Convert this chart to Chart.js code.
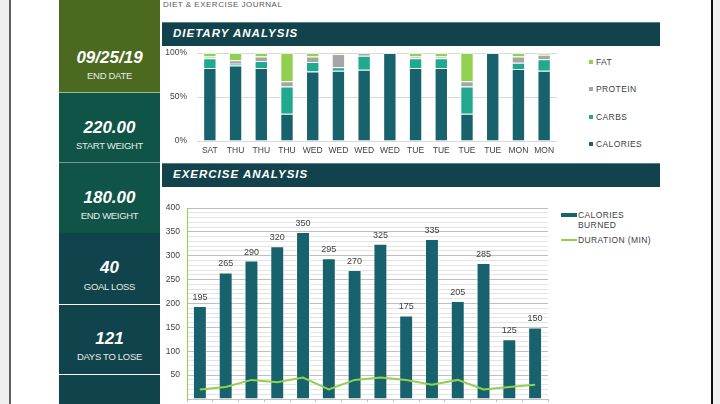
<!DOCTYPE html>
<html>
<head>
<meta charset="utf-8">
<script src="https://cdn.jsdelivr.net/npm/chart.js@4.4.1/dist/chart.umd.min.js"></script>
<style>
  html, body { margin:0; padding:0; }
  body { width:720px; height:404px; overflow:hidden; position:relative; background:#fff;
         font-family:"Liberation Sans", Arial, sans-serif; }
  .abs { position:absolute; }
  .box { position:absolute; left:59px; width:101px; }
  .val { position:absolute; left:59px; width:101px; text-align:center; color:#fff;
         font-weight:bold; font-style:italic; font-size:17px; line-height:20px; }
  .lab { position:absolute; left:59px; width:101px; text-align:center; color:#e6ece9;
         font-size:9.5px; line-height:10px; letter-spacing:-0.3px; }
  .banner { position:absolute; left:162px; width:498px; height:24px; background:#12434c;
            border-top:1px solid #5b8288; box-sizing:border-box; }
  .banner span { position:absolute; left:11px; top:4px; color:#fff; font-weight:bold;
                 font-style:italic; font-size:11.5px; letter-spacing:1px; }
  .leg { position:absolute; font-size:8.5px; color:#404040; letter-spacing:0.4px; line-height:10px; }
  .sq { position:absolute; width:4px; height:4px; }
</style>
</head>
<body>
<!-- page frame -->
<div class="abs" style="left:0;top:0;width:9px;height:404px;background:#efefef"></div>
<div class="abs" style="left:9px;top:0;width:2px;height:404px;background:#5f5f5f"></div>
<div class="abs" style="left:711px;top:0;width:2px;height:404px;background:#111"></div>
<div class="abs" style="left:713px;top:0;width:7px;height:404px;background:#efefef"></div>

<!-- sidebar -->
<div class="box" style="top:0;height:92px;background:#4b6a1f"></div>
<div class="box" style="top:92px;height:1px;background:#a3b98a"></div>
<div class="box" style="top:93px;height:69px;background:#0f5446"></div>
<div class="box" style="top:162px;height:1px;background:#6f9d90"></div>
<div class="box" style="top:163px;height:70px;background:#0f5446"></div>
<div class="box" style="top:233px;height:71px;background:#11434c"></div>
<div class="box" style="top:304px;height:1px;background:#ffffff"></div>
<div class="box" style="top:305px;height:69px;background:#11434c"></div>
<div class="box" style="top:374px;height:1px;background:#ffffff"></div>
<div class="box" style="top:375px;height:29px;background:#11434c"></div>

<div class="val" style="top:48px">09/25/19</div>
<div class="lab" style="top:71px">END DATE</div>
<div class="val" style="top:118px">220.00</div>
<div class="lab" style="top:141px">START WEIGHT</div>
<div class="val" style="top:188px">180.00</div>
<div class="lab" style="top:211px">END WEIGHT</div>
<div class="val" style="top:258px">40</div>
<div class="lab" style="top:282px">GOAL LOSS</div>
<div class="val" style="top:329px">121</div>
<div class="lab" style="top:352px">DAYS TO LOSE</div>

<!-- titles -->
<div class="abs" style="left:163px;top:0px;font-size:8px;line-height:10px;color:#595959;letter-spacing:0.5px">DIET &amp; EXERCISE JOURNAL</div>
<div class="banner" style="top:22px"><span>DIETARY ANALYSIS</span></div>
<div class="banner" style="top:163px"><span>EXERCISE ANALYSIS</span></div>

<!-- charts -->
<canvas id="diet" class="abs" style="left:160px;top:38px" width="400" height="124"></canvas>
<canvas id="ex" class="abs" style="left:160px;top:190px" width="392" height="230"></canvas>

<!-- diet legend -->
<div class="sq" style="left:589px;top:60px;background:#92d050"></div>
<div class="leg" style="left:596px;top:57px">FAT</div>
<div class="sq" style="left:589px;top:87px;background:#a6a6a6"></div>
<div class="leg" style="left:596px;top:84px">PROTEIN</div>
<div class="sq" style="left:589px;top:115px;background:#20a98e"></div>
<div class="leg" style="left:596px;top:112px">CARBS</div>
<div class="sq" style="left:589px;top:142px;background:#17626c"></div>
<div class="leg" style="left:596px;top:139px">CALORIES</div>

<!-- exercise legend -->
<div class="abs" style="left:561px;top:213px;width:16px;height:4px;background:#17626c"></div>
<div class="leg" style="left:578px;top:210px">CALORIES<br>BURNED</div>
<div class="abs" style="left:561px;top:239px;width:16px;height:2px;background:#92d050"></div>
<div class="leg" style="left:578px;top:235px">DURATION (MIN)</div>

<script>
// ---- data ----
const dietDays = ["SAT","THU","THU","THU","WED","WED","WED","WED","TUE","TUE","TUE","TUE","MON","MON"];
const calories = [83, 86, 83, 31, 79, 80, 81, 100, 83, 83, 31, 100, 82, 80];
const carbs    = [11,  2,  8, 31, 11,  4, 16,   0, 11, 11, 31,   0,  7, 13];
const protein  = [ 2,  4,  5,  6,  6, 15,  3,   0,  2,  2,  6,   0,  7,  5];
const fat      = [ 4,  8,  4, 32,  4,  1,  0,   0,  4,  4, 32,   0,  4,  2];
const dietTicks = [0, 50, 100];

const exDays = ["SAT","THU","THU","THU","WED","WED","WED","WED","TUE","TUE","TUE","TUE","MON","MON"];
const caloriesBurned = [195, 265, 290, 320, 350, 295, 270, 325, 175, 335, 205, 285, 125, 150];
const durationMin    = [20, 25, 40, 35, 45, 20, 40, 45, 40, 30, 40, 20, 25, 30];
const exMax = 400, exMajor = 50, exMinor = 10;

const FONT = "'Liberation Sans', Arial, sans-serif";
Chart.defaults.font.family = FONT;
Chart.defaults.color = '#404040';
Chart.defaults.animation = false;

const edge = 'rgba(255,255,255,0.45)';

new Chart(document.getElementById('diet'), {
  type: 'bar',
  data: {
    labels: dietDays,
    datasets: [
      { label: 'CALORIES', data: calories, backgroundColor: '#17626c', borderColor: edge, borderWidth: 1 },
      { label: 'CARBS',    data: carbs,    backgroundColor: '#20a98e', borderColor: edge, borderWidth: 1 },
      { label: 'PROTEIN',  data: protein,  backgroundColor: '#a6a6a6', borderColor: edge, borderWidth: 1 },
      { label: 'FAT',      data: fat,      backgroundColor: '#92d050', borderColor: edge, borderWidth: 1 }
    ]
  },
  options: {
    responsive: false,
    layout: { padding: { top: 0, right: 3, left: 0, bottom: 0 } },
    plugins: { legend: { display: false }, tooltip: { enabled: false } },
    datasets: { bar: { categoryPercentage: 1, barPercentage: 0.52 } },
    scales: {
      x: {
        stacked: true,
        grid: { display: false, drawTicks: false },
        border: { display: false },
        ticks: { padding: 5, font: { size: 8.5 }, color: '#404040', maxRotation: 0, autoSkip: false },
        afterFit: s => { s.height = 21; }
      },
      y: {
        stacked: true, min: 0, max: 100,
        afterBuildTicks: s => { s.ticks = dietTicks.map(v => ({ value: v })); },
        grid: { color: '#d9d9d9', drawTicks: false },
        border: { display: false },
        ticks: { padding: 10, font: { size: 8.5 }, color: '#404040', callback: v => v + '%' },
        afterFit: s => { s.width = 37; }
      }
    }
  }
});

const barLabels = {
  id: 'barLabels',
  afterDatasetsDraw(chart) {
    const ctx = chart.ctx;
    const idx = chart.data.datasets.findIndex(d => d.type === 'bar');
    const meta = chart.getDatasetMeta(idx);
    ctx.save();
    ctx.font = "9px " + FONT;
    ctx.fillStyle = '#404040';
    ctx.textAlign = 'center';
    ctx.textBaseline = 'bottom';
    meta.data.forEach((el, i) => {
      ctx.fillText(String(chart.data.datasets[idx].data[i]), el.x, el.y - 4);
    });
    ctx.restore();
  }
};

new Chart(document.getElementById('ex'), {
  data: {
    labels: exDays,
    datasets: [
      { type: 'line', label: 'DURATION (MIN)', data: durationMin, borderColor: '#92d050',
        borderWidth: 2, pointRadius: 0, tension: 0, order: 0 },
      { type: 'bar', label: 'CALORIES BURNED', data: caloriesBurned, backgroundColor: '#17626c',
        borderColor: 'rgba(255,255,255,0.4)', borderWidth: 1,
        categoryPercentage: 1, barPercentage: 0.54, order: 1 }
    ]
  },
  options: {
    responsive: false,
    layout: { padding: { top: 18, right: 4, left: 0, bottom: 0 } },
    plugins: { legend: { display: false }, tooltip: { enabled: false } },
    scales: {
      x: {
        offset: true,
        grid: { drawOnChartArea: false, drawTicks: true, tickLength: 3, color: '#bfbfbf', offset: true },
        border: { color: '#bfbfbf' },
        ticks: { padding: 4, font: { size: 8.5 }, color: '#404040', maxRotation: 0, autoSkip: false },
        afterFit: s => { s.height = 21; }
      },
      y: {
        min: 0, max: exMax,
        ticks: {
          stepSize: exMinor, autoSkip: false, padding: 7, font: { size: 8.5 }, color: '#404040',
          callback: v => (v !== 0 && v % exMajor === 0) ? String(v) : ''
        },
        grid: {
          drawTicks: false,
          color: c => (c.tick && c.tick.value % exMajor === 0) ? '#bfbfbf' : '#e4e4e4'
        },
        border: { color: '#92d050' },
        afterFit: s => { s.width = 27; }
      }
    }
  },
  plugins: [barLabels]
});
</script>
</body>
</html>
